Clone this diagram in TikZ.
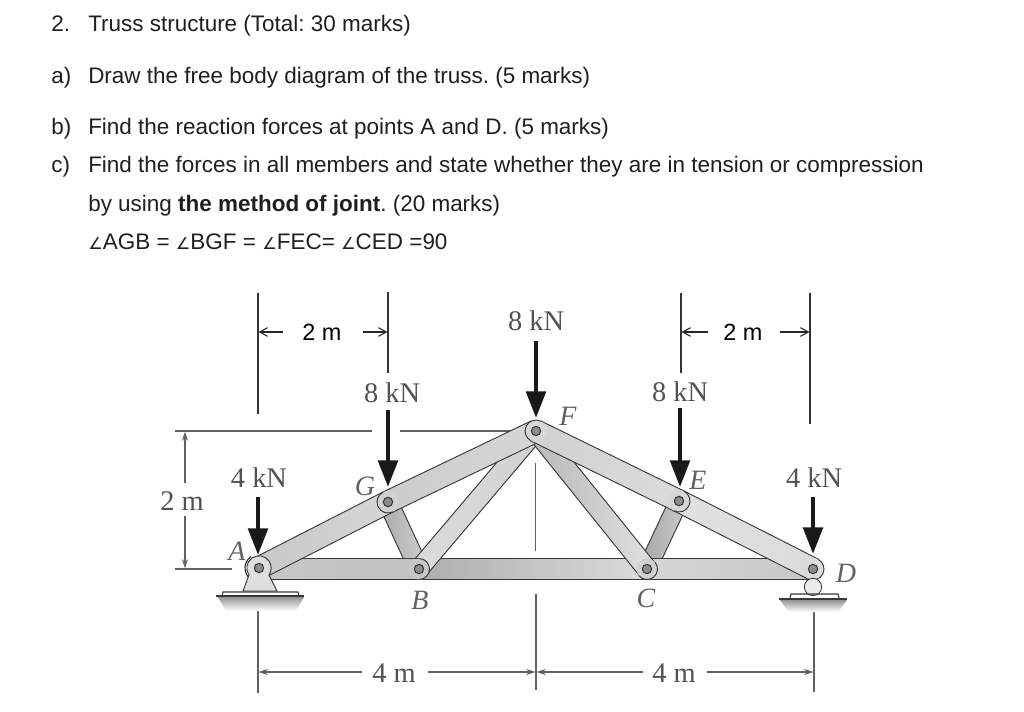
\documentclass[tikz,border=0pt]{standalone}
\usepackage{fontspec}
\setmainfont{Liberation Sans}
\newfontfamily\serifface{Liberation Serif}
\newfontfamily\angface{DejaVu Sans}
\usetikzlibrary{calc,arrows.meta}
\definecolor{ink}{gray}{0.22}
\definecolor{dimgray}{gray}{0.38}
\newcommand{\memberband}[6]{%
  \path[draw=ink,line width=0.7pt,left color=#4,middle color=#5,right color=#6]
    ($(#1)!#3!90:(#2)$) -- ($(#1)!#3!-90:(#2)$) -- ($(#2)!#3!90:(#1)$) -- ($(#2)!#3!-90:(#1)$) -- cycle;}
% rounded member end: joint, start angle, end angle, radius, fill
\newcommand{\memberend}[5]{%
  \fill[#5] (#1) circle[radius=#4];
  \draw[ink,line width=0.7pt] ([shift={(#2:#4)}]#1) arc[start angle=#2,end angle=#3,radius=#4];}
\newcommand{\angsym}{{\angface\fontsize{12.2pt}{18pt}\selectfont ∠}}
\tikzset{
  line/.style={font=\fontsize{16.85pt}{18pt}\selectfont,anchor=base west,inner sep=0pt,text=black!88},
  sdim/.style={font=\fontsize{17.6pt}{20pt}\selectfont,inner sep=0pt,text=black},
  load/.style={font=\serifface\fontsize{21.3pt}{22pt}\selectfont,inner sep=0pt,text=black!68},
  letter/.style={font=\serifface\itshape\fontsize{21pt}{22pt}\selectfont,inner sep=0pt,text=black!62},
  extline/.style={draw=black!80,line width=0.8pt},
  gline/.style={draw=dimgray,line width=0.8pt},
  darrow/.style={-{Straight Barb[length=6pt,width=6.5pt]},draw=black!85,line width=0.8pt},
  garrow/.style={-{Stealth[length=7pt,width=4.5pt]},draw=dimgray,line width=0.8pt},
  loadarrow/.style={-{Triangle[length=20pt,width=14.5pt]},draw=black!90,line width=3.4pt},
  pin/.style={circle,draw=ink,line width=0.8pt,fill=black!45,minimum size=7pt,inner sep=0pt},
}
\begin{document}
\frenchspacing
\begin{tikzpicture}[x=0.75pt,y=-0.75pt]
\useasboundingbox[fill=white] (0,0) rectangle (1024,711);
% text
\node[line] (t1a) at (51,31.7) {2.};
\node[line] (t1) at (88,31.7) {Truss structure (Total: 30 marks)};
\node[line] (t2a) at (51,83.7) {a)};
\node[line] (t2) at (88,83.7) {Draw the free body diagram of the truss. (5 marks)};
\node[line] (t3a) at (51,134.7) {b)};
\node[line] (t3) at (88,134.7) {Find the reaction forces at points A and D. (5 marks)};
\node[line] (t4a) at (51,172.7) {c)};
\node[line] (t4) at (88,172.7) {Find the forces in all members and state whether they are in tension or compression};
\node[line] (t5) at (88,211.7) {by using \textbf{the method of joint}. (20 marks)};
\node[line] (t6) at (88,249.7) {\angsym AGB = \angsym BGF = \angsym FEC= \angsym CED =90};
% joints
\coordinate (A) at (259,568);
\coordinate (Ab) at (259,569);
\coordinate (B) at (419,569);
\coordinate (C) at (647,569);
\coordinate (D) at (813,569);
\coordinate (G) at (388,502);
\coordinate (F) at (536,431);
\coordinate (E) at (679,501);
% top dimension lines
\coordinate (x1t) at (258,293); \coordinate (x1b) at (258,414);
\coordinate (x2t) at (388,292); \coordinate (x2b) at (388,373);
\coordinate (x3t) at (681,293); \coordinate (x3b) at (681,373);
\coordinate (x4t) at (810,293); \coordinate (x4b) at (810,424);
\draw[extline] (x1t) -- (x1b);
\draw[extline] (x2t) -- (x2b);
\draw[extline] (x3t) -- (x3b);
\draw[extline] (x4t) -- (x4b);
\node[sdim] (d2a) at (322,332) {2 m};
\node[sdim] (d2b) at (743,332) {2 m};
\coordinate (p1) at (283,332); \coordinate (p1e) at (258.5,332);
\coordinate (p2) at (363,332); \coordinate (p2e) at (387.5,332);
\coordinate (p3) at (708,332); \coordinate (p3e) at (681.5,332);
\coordinate (p4) at (780,332); \coordinate (p4e) at (809.5,332);
\draw[darrow] (p1) -- (p1e);
\draw[darrow] (p2) -- (p2e);
\draw[darrow] (p3) -- (p3e);
\draw[darrow] (p4) -- (p4e);
% 2 m vertical dimension
\coordinate (h1) at (175,431); \coordinate (h2) at (372,431);
\coordinate (h3) at (400,431); \coordinate (h4) at (512,431);
\coordinate (h5) at (175,569); \coordinate (h6) at (232,569);
\draw[gline] (h1) -- (h2);
\draw[gline] (h3) -- (h4);
\draw[gline] (h5) -- (h6);
\node[load] (d2v) at (182,501) {2 m};
\coordinate (v1) at (185,483); \coordinate (v1e) at (185,431.5);
\coordinate (v2) at (185,516); \coordinate (v2e) at (185,568.5);
\draw[garrow] (v1) -- (v1e);
\draw[garrow] (v2) -- (v2e);
% lower dimension lines
\coordinate (l1t) at (258,611); \coordinate (l1b) at (258,693);
\coordinate (l2t) at (536,594); \coordinate (l2b) at (536,690);
\coordinate (l3t) at (814,612); \coordinate (l3b) at (814,692);
\coordinate (m1) at (535.5,463); \coordinate (m2) at (535.5,551);
\draw[gline] (l1t) -- (l1b);
\draw[gline] (l2t) -- (l2b);
\draw[gline] (l3t) -- (l3b);
\draw[gline] (m1) -- (m2);
\node[load] (d4a) at (394,673) {4 m};
\node[load] (d4b) at (674,673) {4 m};
\coordinate (q1) at (362,672); \coordinate (q1e) at (258.5,672);
\coordinate (q2) at (428,672); \coordinate (q2e) at (535.5,672);
\coordinate (q3) at (643,672); \coordinate (q3e) at (536.5,672);
\coordinate (q4) at (707,672); \coordinate (q4e) at (813.5,672);
\draw[garrow] (q1) -- (q1e);
\draw[garrow] (q2) -- (q2e);
\draw[garrow] (q3) -- (q3e);
\draw[garrow] (q4) -- (q4e);
% supports: shadows
\path[top color=black!42,bottom color=white] (218,597) -- (304,597) -- (296,611) -- (226,611) -- cycle;
\path[top color=black!42,bottom color=white] (780,600) -- (847,600) -- (838,612) -- (789,612) -- cycle;
% web members ending behind the chord
\memberband{B}{G}{7.4pt}{black!34}{black!26}{black!18}
\memberband{C}{E}{7pt}{black!36}{black!28}{black!20}
% bottom chord
\memberband{B}{C}{7.9pt}{black!32}{black!20}{black!14}
\memberband{C}{D}{7.9pt}{black!16}{black!8}{black!22}
% inner diagonals
\memberband{B}{F}{7.2pt}{black!14}{black!10}{black!18}
\memberband{Ab}{B}{7.9pt}{black!22}{black!9}{black!24}
\memberend{B}{-90}{90}{10.5}{black!22}
\memberband{C}{F}{7.6pt}{black!28}{black!18}{black!12}
\memberend{C}{-39}{141}{10.5}{black!18}
% top chords
\memberband{A}{G}{8.4pt}{black!22}{black!14}{black!16}
\memberband{G}{F}{8.4pt}{black!20}{black!12}{black!16}
\memberend{G}{64}{244}{11}{black!18}
\memberband{E}{D}{8.4pt}{black!12}{black!9}{black!14}
\memberend{D}{-63}{117}{11}{black!14}
\memberband{F}{E}{8.4pt}{black!18}{black!9}{black!14}
\memberend{F}{117}{297}{11}{black!16}
\memberend{E}{-63}{117}{11}{black!16}
% A bracket
\draw[ink,line width=0.9pt] ([shift={(140:14)}]A) arc[start angle=140,end angle=235,radius=14];
\path[draw=ink,line width=0.7pt,fill=black!13] (243,591) -- (249,575) arc[start angle=145,end angle=395,radius=12.2] -- (277,591) -- cycle;
\draw[ink,line width=0.8pt] (222,596) -- (223,592) -- (298,592) -- (299,596);
\draw[ink,line width=1.3pt] (216,596) -- (304,596);
% D roller
\node[circle,draw=ink,line width=0.6pt,fill=black!8,minimum size=13pt,inner sep=0pt] (roller) at (813,587) {};
\draw[ink,line width=0.8pt] (790,598) -- (791,594) -- (838,594) -- (839,598);
\draw[ink,line width=1.3pt] (779,599) -- (847,599);
% pins
\node[pin] (pA) at (A) {};
\node[pin] (pG) at (G) {};
\node[pin] (pF) at (F) {};
\node[pin] (pE) at (E) {};
\node[pin] (pB) at (B) {};
\node[pin] (pC) at (C) {};
\node[pin] (pD) at (D) {};
% loads
\node[load] (n1) at (259,478) {4 kN};
\node[load] (n2) at (392,393) {8 kN};
\node[load] (n3) at (536,321) {8 kN};
\node[load] (n4) at (680,392) {8 kN};
\node[load] (n5) at (814,478) {4 kN};
\coordinate (a1) at (258,497); \coordinate (a1t) at (258,555);
\coordinate (a2) at (388,410); \coordinate (a2t) at (388,487);
\coordinate (a3) at (536,341); \coordinate (a3t) at (536,418);
\coordinate (a4) at (680,408); \coordinate (a4t) at (680,487);
\coordinate (a5) at (813,497); \coordinate (a5t) at (813,554);
\draw[loadarrow] (a1) -- (a1t);
\draw[loadarrow] (a2) -- (a2t);
\draw[loadarrow] (a3) -- (a3t);
\draw[loadarrow] (a4) -- (a4t);
\draw[loadarrow] (a5) -- (a5t);
% letters
\node[letter] (lA) at (237,551) {A};
\node[letter] (lG) at (365,486) {G};
\node[letter] (lB) at (420,600) {B};
\node[letter] (lC) at (646,598) {C};
\node[letter] (lD) at (846,573) {D};
\node[letter] (lE) at (698,480) {E};
\node[letter] (lF) at (568,416) {F};
\end{tikzpicture}
\end{document}
